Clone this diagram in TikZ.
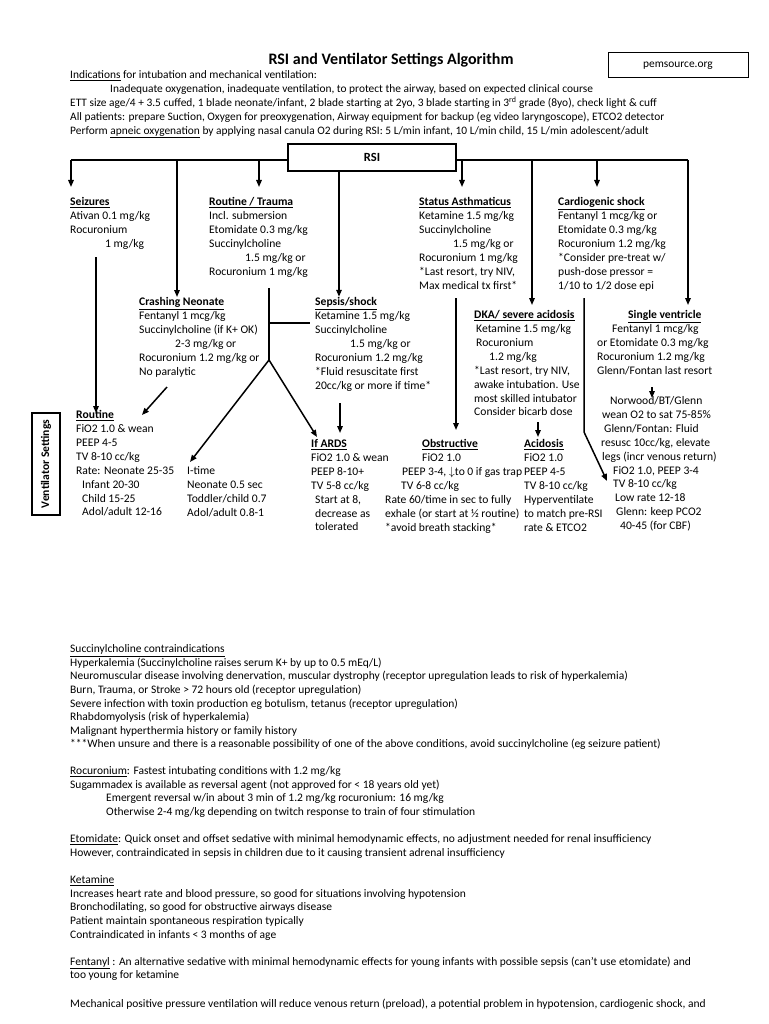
\documentclass[tikz,border=0pt]{standalone}
\usepackage{fontspec}
\setmainfont{Carlito}
\usetikzlibrary{arrows.meta}
\newcommand{\flowfont}{\fontsize{11.6}{13.9}\selectfont}
\newcommand{\notefont}{\fontsize{11.5}{13.6}\selectfont}
\newcommand{\topfont}{\fontsize{11.4}{14}\selectfont}
\newcommand{\ulhead}[1]{\underline{\textbf{#1}}}
\begin{document}
\begin{tikzpicture}[x=1pt,y=-1pt]
\tikzstyle{every node}+=[inner sep=0pt]
\tikzstyle{blk}=[anchor=north west, align=left, font=\flowfont, execute at begin node=\strut, shift={(0,-9.73)}]
\tikzstyle{txt}=[anchor=north west, align=left, font=\notefont, execute at begin node=\strut, shift={(0,-9.52)}]
\tikzstyle{hdr}=[anchor=north west, align=left, font=\topfont, execute at begin node=\strut, shift={(0,-9.8)}]
\tikzstyle{wire}=[black, line width=1.5pt]
\tikzstyle{arr}=[wire, -{Triangle[length=7pt,width=5.5pt]}]
\useasboundingbox (0,0) rectangle (768,1024);
\fill[white] (0,0) rectangle (768,1024);
\node[anchor=base, font=\bfseries\fontsize{16}{18}\selectfont] (title) at (391,65) {RSI and Ventilator Settings Algorithm};
\node[draw, line width=1pt, minimum width=140pt, minimum height=25pt, font=\topfont] (web) at (678,65.5) {pemsource.org};
\node[hdr] (indic) at (70,80) {\underline{Indications} for intubation and mechanical ventilation:\\
\hspace*{40pt}Inadequate oxygenation, inadequate ventilation, to protect the airway, based on expected clinical course\\
ETT size age/4 + 3.5 cuffed, 1 blade neonate/infant, 2 blade starting at 2yo, 3 blade starting in 3\textsuperscript{rd} grade (8yo), check light \& cuff\\
All patients: prepare Suction, Oxygen for preoxygenation, Airway equipment for backup (eg video laryngoscope), ETCO2 detector\\
Perform \underline{apneic oxygenation} by applying nasal canula O2 during RSI: 5 L/min infant, 10 L/min child, 15 L/min adolescent/adult};
\node[draw, line width=1.5pt, minimum width=168pt, minimum height=27pt, font=\bfseries\fontsize{12.5}{14}\selectfont] (rsi) at (372,157.5) {RSI};
\node[blk] (seiz) at (70,207) {\ulhead{Seizures}\\Ativan 0.1 mg/kg\\Rocuronium\\\hspace*{35pt}1 mg/kg};
\node[blk] (trauma) at (209,207) {\ulhead{Routine / Trauma}\\Incl. submersion\\Etomidate 0.3 mg/kg\\Succinylcholine\\\hspace*{36pt}1.5 mg/kg or\\Rocuronium 1 mg/kg};
\node[blk] (asthma) at (419,207) {\ulhead{Status Asthmaticus}\\Ketamine 1.5 mg/kg\\Succinylcholine\\\hspace*{34pt}1.5 mg/kg or\\Rocuronium 1 mg/kg\\*Last resort, try NIV,\\Max medical tx first*};
\node[blk] (cardio) at (558,207) {\ulhead{Cardiogenic shock}\\Fentanyl 1 mcg/kg or\\Etomidate 0.3 mg/kg\\Rocuronium 1.2 mg/kg\\*Consider pre-treat w/\\push-dose pressor =\\1/10 to 1/2 dose epi};
\node[blk] (neonate) at (139,307) {\ulhead{Crashing Neonate}\\Fentanyl 1 mcg/kg\\Succinylcholine (if K+ OK)\\\hspace*{36pt}2-3 mg/kg or\\Rocuronium 1.2 mg/kg or\\No paralytic};
\node[blk] (sepsis) at (315,307) {\ulhead{Sepsis/shock}\\Ketamine 1.5 mg/kg\\Succinylcholine\\\hspace*{35pt}1.5 mg/kg or\\Rocuronium 1.2 mg/kg\\*Fluid resuscitate first\\20cc/kg or more if time*};
\node[blk] (dka) at (474,320) {\ulhead{DKA/ severe acidosis}\\\hspace*{2pt}Ketamine 1.5 mg/kg\\\hspace*{2pt}Rocuronium\\\hspace*{15pt}1.2 mg/kg\\*Last resort, try NIV,\\awake intubation. Use\\most skilled intubator\\Consider bicarb dose};
\node[blk] (single) at (597,320) {\hspace*{31pt}\ulhead{Single ventricle}\\\hspace*{15pt}Fentanyl 1 mcg/kg\\or Etomidate 0.3 mg/kg\\Rocuronium 1.2 mg/kg\\Glenn/Fontan last resort};
\node[blk] (glenn) at (597,406) {\hspace*{13pt}Norwood/BT/Glenn\\\hspace*{5pt}wean O2 to sat 75-85\%\\\hspace*{7pt}Glenn/Fontan: Fluid\\\hspace*{4pt}resusc 10cc/kg, elevate\\\hspace*{5pt}legs (incr venous return)\\\hspace*{16pt}FiO2 1.0, PEEP 3-4\\\hspace*{16pt}TV 8-10 cc/kg\\\hspace*{18pt}Low rate 12-18\\\hspace*{19pt}Glenn: keep PCO2\\\hspace*{23pt}40-45 (for CBF)};
\node[draw, line width=1.5pt, rotate=90, minimum width=102pt, minimum height=28pt, font=\bfseries\flowfont] (vent) at (46,464) {Ventilator Settings};
\node[blk] (routine) at (76,420) {\ulhead{Routine}\\FiO2 1.0 \& wean\\PEEP 4-5\\TV 8-10 cc/kg\\Rate: Neonate 25-35\\\hspace*{6pt}Infant 20-30\\\hspace*{6pt}Child 15-25\\\hspace*{6pt}Adol/adult 12-16};
\node[blk] (itime) at (187,476) {I-time\\Neonate 0.5 sec\\Toddler/child 0.7\\Adol/adult 0.8-1};
\node[blk] (ards) at (311,449) {\ulhead{If ARDS}\\FiO2 1.0 \& wean\\PEEP 8-10+\\TV 5-8 cc/kg\\\hspace*{4pt}Start at 8,\\\hspace*{4pt}decrease as\\\hspace*{4pt}tolerated};
\node[blk] (obstr) at (385,449) {\hspace*{37pt}\ulhead{Obstructive}\\\hspace*{37pt}FiO2 1.0\\\hspace*{17pt}PEEP 3-4, $\downarrow$to 0 if gas trap\\\hspace*{16pt}TV 6-8 cc/kg\\Rate 60/time in sec to fully\\exhale (or start at ½ routine)\\*avoid breath stacking*};
\node[blk] (acid) at (524,449) {\ulhead{Acidosis}\\FiO2 1.0\\PEEP 4-5\\TV 8-10 cc/kg\\Hyperventilate\\to match pre-RSI\\rate \& ETCO2};
\node[txt] (succ) at (70,654) {\underline{Succinylcholine contraindications}\\
Hyperkalemia (Succinylcholine raises serum K+ by up to 0.5 mEq/L)\\
Neuromuscular disease involving denervation, muscular dystrophy (receptor upregulation leads to risk of hyperkalemia)\\
Burn, Trauma, or Stroke > 72 hours old (receptor upregulation)\\
Severe infection with toxin production eg botulism, tetanus (receptor upregulation)\\
Rhabdomyolysis (risk of hyperkalemia)\\
Malignant hyperthermia history or family history\\
***When unsure and there is a reasonable possibility of one of the above conditions, avoid succinylcholine (eg seizure patient)};
\node[txt] (rocu) at (70,776) {\underline{Rocuronium}: Fastest intubating conditions with 1.2 mg/kg\\
Sugammadex is available as reversal agent (not approved for < 18 years old yet)\\
\hspace*{36pt}Emergent reversal w/in about 3 min of 1.2 mg/kg rocuronium: 16 mg/kg\\
\hspace*{36pt}Otherwise 2-4 mg/kg depending on twitch response to train of four stimulation};
\node[txt] (etom) at (70,844) {\underline{Etomidate}: Quick onset and offset sedative with minimal hemodynamic effects, no adjustment needed for renal insufficiency\\
However, contraindicated in sepsis in children due to it causing transient adrenal insufficiency};
\node[txt] (keta) at (70,885) {\underline{Ketamine}\\
Increases heart rate and blood pressure, so good for situations involving hypotension\\
Bronchodilating, so good for obstructive airways disease\\
Patient maintain spontaneous respiration typically\\
Contraindicated in infants < 3 months of age};
\node[txt] (fent) at (70,966) {\underline{Fentanyl} : An alternative sedative with minimal hemodynamic effects for young infants with possible sepsis (can’t use etomidate) and\\
too young for ketamine};
\node[txt] (mech) at (70,1007) {Mechanical positive pressure ventilation will reduce venous return (preload), a potential problem in hypotension, cardiogenic shock, and};
\coordinate (t1) at (71,160);
\coordinate (t2) at (177,160);
\coordinate (t3) at (259,160);
\coordinate (t5) at (462,160);
\coordinate (t6) at (532,160);
\coordinate (t7) at (597,160);
\coordinate (t8) at (688,160);
\draw[wire] (t1) -- (rsi.west |- t1);
\draw[wire] (rsi.east |- t8) -- (t8);
\draw[arr] (t1) -- ++(0,27);
\draw[arr] (t2) -- ++(0,137);
\draw[arr] (t3) -- ++(0,27);
\draw[arr] (rsi.south) ++(-33,0) -- ++(0,125);
\draw[arr] (t5) -- ++(0,27);
\draw[arr] (t6) -- ++(0,145);
\draw[arr] (t7) -- ++(0,27);
\draw[arr] (t8) -- ++(0,145);
\coordinate (sz) at (96,257);
\coordinate (trunk) at (269,288);
\coordinate (tee) at (269,323);
\coordinate (fork) at (269,360);
\coordinate (itip) at (190,462);
\coordinate (atip) at (317,437);
\coordinate (nn) at (167,387);
\coordinate (sp) at (340,403);
\coordinate (sa) at (456,298);
\coordinate (dk) at (538,422);
\coordinate (cs) at (584,298);
\coordinate (bend) at (584,432);
\coordinate (ctip) at (607,481);
\coordinate (sv) at (652,387);
\draw[arr] (sz) -- ++(0,156);
\draw[wire] (trunk) -- (fork);
\draw[wire] (tee) -- ++(41,0);
\draw[arr] (fork) -- (itip);
\draw[arr] (fork) -- (atip);
\draw[arr] (nn) -- (142,415);
\draw[arr] (sp) -- ++(0,30);
\draw[arr] (sa) -- ++(0,132);
\draw[arr] (dk) -- ++(0,15);
\draw[arr] (cs) -- (bend) -- (ctip);
\draw[arr] (sv) -- ++(0,11);
\end{tikzpicture}
\end{document}
